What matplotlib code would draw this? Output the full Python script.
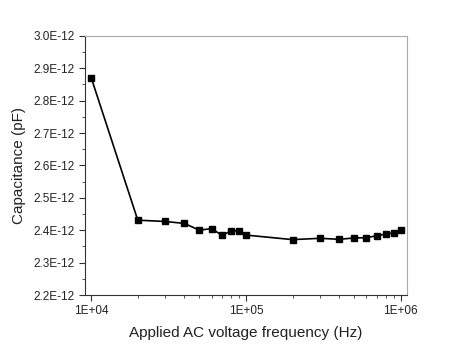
import math
import matplotlib
matplotlib.use('Agg')
import matplotlib.pyplot as plt
from matplotlib.ticker import FuncFormatter, MultipleLocator, LogLocator, NullFormatter

plt.rcParams['font.family'] = ['Liberation Sans', 'DejaVu Sans']

freq = [1e4, 2e4, 3e4, 4e4, 5e4, 6e4, 7e4, 8e4, 9e4, 1e5,
        2e5, 3e5, 4e5, 5e5, 6e5, 7e5, 8e5, 9e5, 1e6]
cap = [2.871, 2.431, 2.427, 2.421, 2.400, 2.405, 2.384, 2.398, 2.398, 2.385,
       2.371, 2.375, 2.372, 2.376, 2.377, 2.383, 2.388, 2.392, 2.400]
cap = [c * 1e-12 for c in cap]

fig = plt.figure(figsize=(4.74, 3.55), dpi=100)
ax = fig.add_axes([0.179, 0.169, 0.68, 0.730])

ax.plot(freq, cap, color='black', marker='s', markersize=4.5, linewidth=1.2)

ax.set_xscale('log')
ax.set_xlim(9.1e3, 1.1e6)
ax.set_ylim(2.2e-12, 3.0e-12)

ax.xaxis.set_major_locator(LogLocator(base=10, numticks=10))
ax.xaxis.set_minor_locator(LogLocator(base=10, subs=range(2, 10), numticks=10))
ax.xaxis.set_minor_formatter(NullFormatter())
ax.xaxis.set_major_formatter(FuncFormatter(lambda v, p: '1E+%02d' % round(math.log10(v))))

ax.yaxis.set_major_locator(MultipleLocator(0.1e-12))
ax.yaxis.set_minor_locator(MultipleLocator(0.05e-12))
ax.yaxis.set_major_formatter(FuncFormatter(lambda v, p: '%.1fE-12' % (v * 1e12)))

ax.tick_params(which='both', direction='out', top=False, right=False,
               labelsize=8.5, color='#333333', labelcolor='#222222')
ax.tick_params(which='major', length=4)
ax.tick_params(which='minor', length=2.5)

for s in ['top', 'right']:
    ax.spines[s].set_color('#aaaaaa')
    ax.spines[s].set_linewidth(0.8)
for s in ['left', 'bottom']:
    ax.spines[s].set_color('#333333')

ax.set_xlabel('Applied AC voltage frequency (Hz)', fontsize=11, labelpad=6, color='#222222')
ax.set_ylabel('Capacitance (pF)', fontsize=11, labelpad=5, color='#222222')

plt.savefig('out.png', dpi=100)
plt.close()
